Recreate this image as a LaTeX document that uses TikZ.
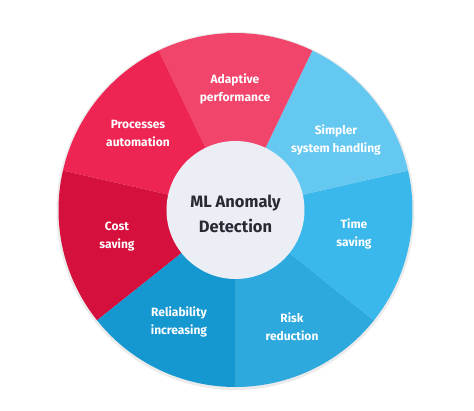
\documentclass[tikz,border=0pt]{standalone}
\usepackage{fontspec}
\setmainfont{Fira Sans}
\definecolor{cAdapt}{HTML}{F2456B}
\definecolor{cProc}{HTML}{EE2552}
\definecolor{cCost}{HTML}{D5103D}
\definecolor{cRel}{HTML}{1597CF}
\definecolor{cRisk}{HTML}{2DA9DE}
\definecolor{cTime}{HTML}{3BB8EB}
\definecolor{cSimp}{HTML}{65C8F1}
\definecolor{cInner}{HTML}{ECEEF6}
\definecolor{cDark}{HTML}{2A2A35}
\begin{document}
\begin{tikzpicture}[x=1pt,y=1pt,
  seglabel/.style={text=white,font=\fontsize{12}{18}\selectfont\bfseries,align=center,inner sep=0pt},
  hublabel/.style={text=cDark,font=\fontsize{16.5}{25}\selectfont\bfseries,align=center,inner sep=0pt}]
\useasboundingbox (-235.5,-200) rectangle (238.5,210);
\fill[black!8] (0,-1) circle[radius=179];
\foreach \a/\c in {-90/cRisk, -38.571/cTime, 12.857/cSimp, 64.286/cAdapt, 115.714/cProc, 167.143/cCost, 218.571/cRel}{
  \fill[\c] (0,0) -- (\a:177) arc[start angle=\a, delta angle=51.43, radius=177] -- cycle;
}
\node[circle, fill=cInner, minimum size=138pt, inner sep=0pt] (hub) at (0,0) {};
\node[hublabel] (hubtxt) at (0,-3.5) {ML Anomaly\\Detection};
\node[seglabel] (adapt) at (-0.5,121) {Adaptive\\performance};
\node[seglabel] (proc) at (-97.5,77) {Processes\\automation};
\node[seglabel] (simp) at (100.5,70) {Simpler\\system handling};
\node[seglabel] (cost) at (-118.5,-27) {Cost\\saving};
\node[seglabel] (time) at (118.5,-23.5) {Time\\saving};
\node[seglabel] (rel) at (-56.5,-112) {Reliability\\increasing};
\node[seglabel] (risk) at (56.5,-117) {Risk\\reduction};
\end{tikzpicture}
\end{document}
